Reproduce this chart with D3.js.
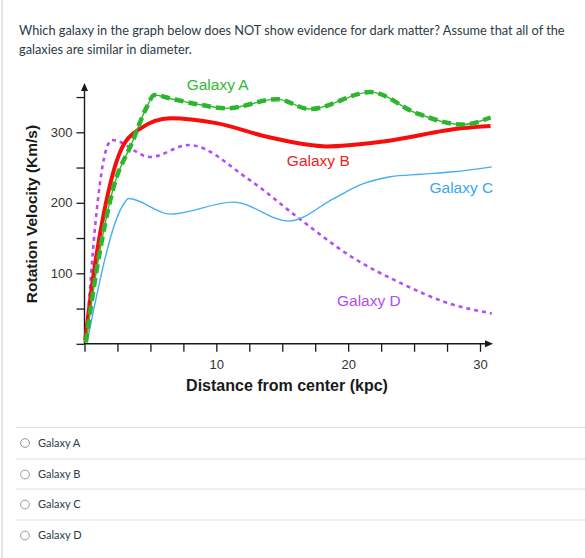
<!DOCTYPE html>
<html>
<head>
<meta charset="utf-8">
<script src="https://cdn.jsdelivr.net/npm/d3@7/dist/d3.min.js"></script>
<style>
  html, body { margin: 0; padding: 0; background: #fff; }
  svg { display: block; }
</style>
</head>
<body>
<svg id="chart" width="585" height="558"></svg>
<script>
// ---------- DATA ----------
const questionLines = [
  "Which galaxy in the graph below does NOT show evidence for dark matter? Assume that all of the",
  "galaxies are similar in diameter."
];
const options = ["Galaxy A", "Galaxy B", "Galaxy C", "Galaxy D"];

const xTicks = [0, 2.5, 5, 7.5, 10, 12.5, 15, 17.5, 20, 22.5, 25, 27.5, 30];
const xTickLabels = [10, 20, 30];
const yTicks = [0, 50, 100, 150, 200, 250, 300, 350];
const yTickLabels = [100, 200, 300];

// distance (kpc) / rotation velocity (km/s)
const galaxyA_d = [0.1, 0.95, 2.2, 3.6, 4.7, 5.3, 6.5, 8.8, 10.8, 14.6, 17.1, 21.7, 25.2, 28.7, 30.8];
const galaxyA_v = [2, 108, 222, 285, 335, 353, 348, 339, 334, 347, 333, 357, 327, 311, 321];

const galaxyB_d = [0.05, 0.7, 1.5, 2.7, 4.2, 6.5, 10, 14, 18.4, 22.7, 28.7, 30.8];
const galaxyB_v = [5, 100, 188, 272, 305, 320, 313, 293, 280, 287, 306, 309];

const galaxyC_d = [0.2, 3.0, 3.35, 6.5, 11.3, 15.5, 18.9, 21, 23.2, 25.5, 28, 30.9];
const galaxyC_v = [3, 199, 206, 184, 201, 174, 206, 226, 237, 240.5, 244, 251];

const galaxyD_d = [0.15, 0.83, 1.72, 2.1, 5, 7.9, 12.4, 16.4, 20.2, 24, 27.7, 30.9];
const galaxyD_v = [10, 171, 280, 289, 265, 282, 234, 176, 124, 86, 57, 43];

// label anchors in data units (kpc, km/s)
const labelNames = ["Galaxy A", "Galaxy B", "Galaxy C", "Galaxy D"];
const labelD = [7.75, 15.35, 26.17, 19.15];
const labelV = [360, 252, 214, 53];

// ---------- DRAW ----------
const svg = d3.select("#chart");
const textColor = "#2d3b45";

// frame left border
svg.append("line").attr("x1", 2).attr("x2", 2).attr("y1", 0).attr("y2", 558)
  .attr("stroke", "#c7cdd1").attr("stroke-width", 1);

// question text
const q = svg.append("g");
questionLines.forEach((t, i) => {
  q.append("text").attr("x", 19).attr("y", 35 + i * 18.5)
    .attr("font-family", "Lato, sans-serif").attr("font-size", 13)
    .attr("fill", textColor).text(t);
});
(function () {
  const first = q.select("text").node();
  const len = first.getComputedTextLength();
  const fs = 13 * 546 / len;
  q.selectAll("text").attr("font-size", fs.toFixed(2));
})();

// scales
const x = d3.scaleLinear().domain([0, 30]).range([84.5, 480]);
const y = d3.scaleLinear().domain([0, 350]).range([343.8, 97.05]);

const axisColor = "#1a1a1a";
const xAxis = svg.append("g").attr("transform", `translate(0,${y(0)})`)
  .call(d3.axisBottom(x).tickValues(xTicks).tickSize(8).tickPadding(8)
    .tickFormat(d => xTickLabels.includes(d) ? d : ""));
const yAxis = svg.append("g").attr("transform", `translate(${x(0)},0)`)
  .call(d3.axisLeft(y).tickValues(yTicks).tickSize(8).tickPadding(4)
    .tickFormat(d => yTickLabels.includes(d) ? d : ""));
[xAxis, yAxis].forEach(a => {
  a.select(".domain").remove();
  a.selectAll(".tick line").attr("stroke", axisColor).attr("stroke-width", 1.3);
  a.selectAll(".tick text").attr("font-family", "'Liberation Sans', Arial, sans-serif")
    .attr("font-size", 13).attr("fill", "#333");
});

// axis lines with arrows
svg.append("line").attr("x1", x(0)).attr("x2", 486).attr("y1", y(0)).attr("y2", y(0))
  .attr("stroke", axisColor).attr("stroke-width", 1.4);
svg.append("path").attr("d", `M493,${y(0)} L485,${y(0) - 3.5} L485,${y(0) + 3.5} Z`).attr("fill", axisColor);
svg.append("line").attr("x1", x(0)).attr("x2", x(0)).attr("y1", y(0)).attr("y2", 90)
  .attr("stroke", axisColor).attr("stroke-width", 1.4);
svg.append("path").attr("d", `M${x(0)},83 L${x(0) - 3.5},91 L${x(0) + 3.5},91 Z`).attr("fill", axisColor);

// axis titles
svg.append("text").attr("x", 287).attr("y", 391).attr("text-anchor", "middle")
  .attr("font-family", "'Liberation Sans', Arial, sans-serif").attr("font-weight", "bold")
  .attr("font-size", 16).attr("fill", "#1a1a1a").text("Distance from center (kpc)");
svg.append("text").attr("transform", "translate(37,214) rotate(-90)").attr("text-anchor", "middle")
  .attr("font-family", "'Liberation Sans', Arial, sans-serif").attr("font-weight", "bold")
  .attr("font-size", 15.5).attr("fill", "#1a1a1a").text("Rotation Velocity (Km/s)");

// curves
const line = d3.line().x(p => x(p[0])).y(p => y(p[1])).curve(d3.curveMonotoneX);
const zip = (a, b) => a.map((v, i) => [v, b[i]]);

svg.append("path").datum(zip(galaxyD_d, galaxyD_v)).attr("d", line)
  .attr("fill", "none").attr("stroke", "#b44cf7").attr("stroke-width", 2.6)
  .attr("stroke-dasharray", "4,4");
svg.append("path").datum(zip(galaxyC_d, galaxyC_v)).attr("d", line)
  .attr("fill", "none").attr("stroke", "#45aef5").attr("stroke-width", 1.4);
svg.append("path").datum(zip(galaxyB_d, galaxyB_v)).attr("d", line)
  .attr("fill", "none").attr("stroke", "#f80d0d").attr("stroke-width", 4);
svg.append("path").datum(zip(galaxyA_d, galaxyA_v)).attr("d", line)
  .attr("fill", "none").attr("stroke", "#35b835").attr("stroke-width", 1.4);
svg.append("path").datum(zip(galaxyA_d, galaxyA_v)).attr("d", line)
  .attr("fill", "none").attr("stroke", "#2db52d").attr("stroke-width", 4.5)
  .attr("stroke-dasharray", "9,5");

// curve labels
const labelColors = ["#33b833", "#f01d1d", "#3aa7f2", "#b54af2"];
labelNames.forEach((n, i) => {
  svg.append("text").attr("x", x(labelD[i])).attr("y", y(labelV[i]))
    .attr("font-family", "'Liberation Sans', Arial, sans-serif").attr("font-size", 15.5)
    .attr("fill", labelColors[i]).text(n);
});

// answer options
const sepY = [427.5, 459, 489, 520];
options.forEach((o, i) => {
  svg.append("line").attr("x1", 16).attr("x2", 585).attr("y1", sepY[i]).attr("y2", sepY[i])
    .attr("stroke", "#dcdfe2").attr("stroke-width", 1);
  const cy = sepY[i] + 15.5;
  svg.append("circle").attr("cx", 25).attr("cy", cy).attr("r", 4.4)
    .attr("fill", "#fff").attr("stroke", "#8a8f93").attr("stroke-width", 0.9);
  svg.append("text").attr("x", 38).attr("y", cy + 3.8)
    .attr("font-family", "Lato, sans-serif").attr("font-size", 11)
    .attr("fill", textColor).text(o);
});
</script>
</body>
</html>
